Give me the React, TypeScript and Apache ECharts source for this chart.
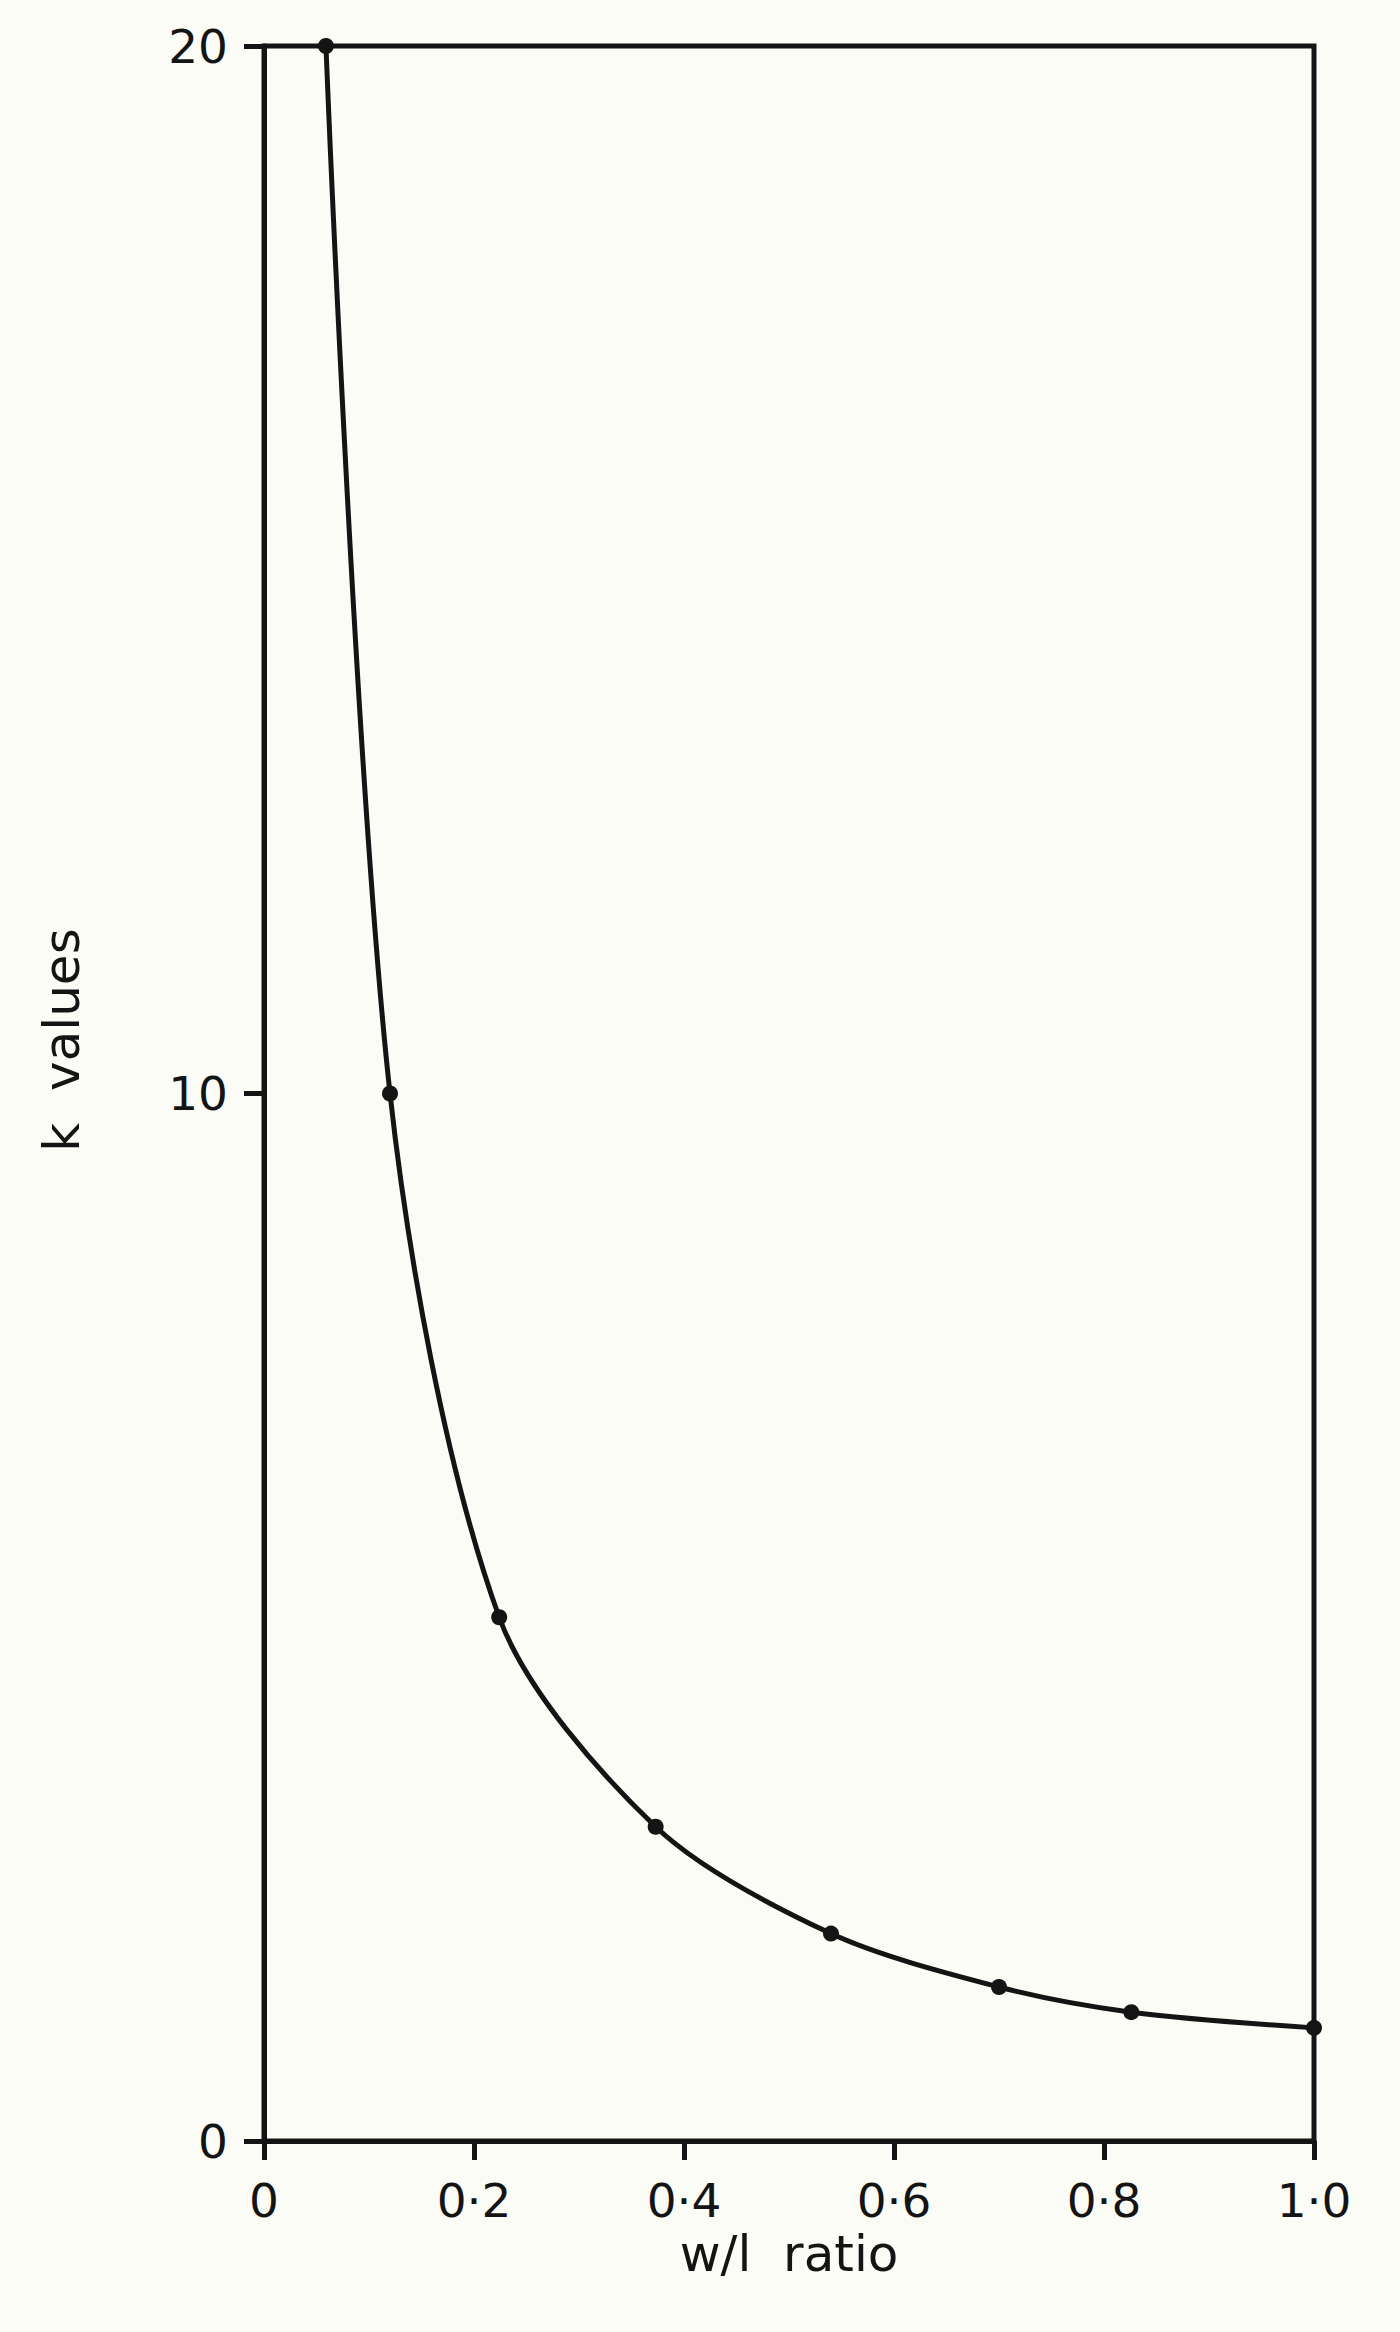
import React, { useEffect, useRef } from "react";
import * as echarts from "echarts";

const ratioValues = [0.059, 0.12, 0.224, 0.373, 0.54, 0.7, 0.826, 1.0];
const kValues = [20, 10, 5.0, 3.0, 1.98, 1.47, 1.23, 1.08];
const xTickLabels: Record<string, string> = {
  "0": "0",
  "0.2": "0·2",
  "0.4": "0·4",
  "0.6": "0·6",
  "0.8": "0·8",
  "1": "1·0",
};
const yTickLabels: Record<string, string> = { "0": "0", "10": "10", "20": "20" };
const xAxisTitle = "w/l  ratio";
const yAxisTitle = "k  values";

const INK = "#141414";
const FONT = "DejaVu Sans";

export default function App() {
  const ref = useRef<HTMLDivElement>(null);
  useEffect(() => {
    if (!ref.current) return;
    const chart = echarts.init(ref.current, undefined, { renderer: "svg" });
    const data = ratioValues.map((x, i) => [x, kValues[i]]);
    chart.setOption({
      animation: false,
      backgroundColor: "#fcfcf7",
      grid: {
        left: 264,
        right: 86,
        top: 46,
        bottom: 191,
        show: true,
        borderColor: INK,
        borderWidth: 5,
        backgroundColor: "transparent",
      },
      xAxis: {
        type: "value",
        min: 0,
        max: 1,
        interval: 0.2,
        name: xAxisTitle,
        nameLocation: "middle",
        nameGap: 74,
        nameTextStyle: { fontFamily: FONT, fontSize: 50, color: INK },
        axisLine: { show: true, lineStyle: { color: INK, width: 5 } },
        axisTick: { show: true, length: 19, lineStyle: { color: INK, width: 5 } },
        axisLabel: {
          margin: 36,
          fontFamily: FONT,
          fontSize: 47,
          color: INK,
          formatter: (v: number) => xTickLabels[String(Math.round(v * 10) / 10)] ?? String(v),
        },
        splitLine: { show: false },
      },
      yAxis: {
        type: "value",
        min: 0,
        max: 20,
        interval: 10,
        axisLine: { show: true, lineStyle: { color: INK, width: 5 } },
        axisTick: { show: true, length: 20, lineStyle: { color: INK, width: 5 } },
        axisLabel: {
          margin: 36,
          fontFamily: FONT,
          fontSize: 47,
          color: INK,
          formatter: (v: number) => yTickLabels[String(v)] ?? String(v),
        },
        splitLine: { show: false },
      },
      graphic: [
        {
          type: "text",
          x: 62,
          y: 1040,
          rotation: Math.PI / 2,
          style: {
            text: yAxisTitle,
            fontFamily: FONT,
            fontSize: 50,
            fill: INK,
            textAlign: "center",
            textVerticalAlign: "middle",
          },
        },
      ],
      series: [
        {
          type: "line",
          data,
          smooth: 0.3,
          symbol: "circle",
          symbolSize: 16,
          showSymbol: true,
          clip: false,
          lineStyle: { color: INK, width: 5 },
          itemStyle: { color: INK },
        },
      ],
    });
    return () => chart.dispose();
  }, []);
  return (
    <div
      ref={ref}
      style={{ position: "absolute", left: 0, top: 0, width: 1400, height: 2332 }}
    />
  );
}
